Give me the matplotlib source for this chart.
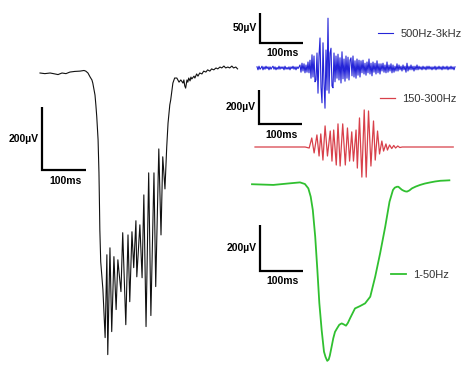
import matplotlib
matplotlib.use("Agg")
import matplotlib.pyplot as plt
import numpy as np

plt.rcParams['font.family'] = ['Liberation Sans', 'DejaVu Sans']

W, H = 474, 366

# raw trace (ms, uV)
black_ms = [0, 11, 23, 34, 41, 50, 59, 68, 79, 91, 100, 104, 109, 114, 118, 120, 125, 127, 129, 132,
            134, 135, 136, 138, 143, 148, 152, 154, 159, 163, 168, 173, 177, 179, 184, 188, 195, 200,
            204, 209, 213, 218, 220, 227, 232, 236, 241, 247, 252, 259, 263, 270, 275, 279, 284, 288,
            291, 295, 297, 302, 306, 311, 316, 320, 325, 327, 329, 331, 334, 336, 338, 341, 343, 345,
            350, 352, 356, 359, 363, 368, 372, 377, 381, 386, 390, 395, 400, 404, 409, 413, 418, 422,
            427, 431, 436, 440, 445, 449]
black_uv = [0, -2, 0, -3, -5, 0, -2, 3, 5, 6, 8, 6, 0, -13, -22, -32, -70, -102, -139, -212,
            -317, -403, -498, -599, -688, -840, -577, -894, -555, -821, -583, -751, -593, -624, -694, -507, -799, -514,
            -726, -504, -618, -469, -647, -482, -650, -387, -805, -317, -770, -317, -678, -241, -514, -266, -368, -235,
            -159, -101, -86, -32, -16, -16, -29, -22, -32, -22, -41, -48, -22, -29, -16, -25, -13, -19,
            -10, -16, -3, -10, 0, -3, 6, 3, 10, 6, 13, 10, 16, 13, 19, 16, 22, 16,
            19, 16, 22, 16, 19, 13]

# 500Hz-3kHz band, one sample every 100/43 ms (uV)
blue_uv = [2, -3, 3, -2, 0, 3, -3, 2, -2, 3, -1, 2, -3, 2, -2, 1, 3, -2, 2, -3, 1, -2, 3, -2, 2, -1,
           2, -3, 3, -2, 1, -2, 2, -3, 2, -1, 3, -2, 2, -3, 2, -1, 2,
           5, -7, 8, -5, 7, -8, 5, -7, 10, -8,
           13, -17, 22, -15, 20, -23,
           -20, 25, -42, 20, 50, -33, -58, 42, -25, -67, 30, -37, 83, -42, 25, 33, -30, -33, 25, -23,
           20, -17, 23, -20, 17, -25, 27, -18, 15, -22, 20, -17, 18, -20, 13,
           17, -13, 20, -15, 12, -17, 15, -12, 13, -15,
           12, -8, 13, -10, 8, -12, 10, -8, 15, -10, 8, -13, 10, -7, 8, -10, 12, -8, 7, -10,
           7, -5, 8, -7, 5, -8, 10, -7, 5, -5, 7, -8, 5, -7, 3, -5, 7, -5, 5, -3,
           3, -5, 5, -3, 3, -7, 8, -5, 3, -3, 5, -3, 3, -5, 3, -3, 5, -3, 3, -2,
           2, -3, 3, -2, 2, -3, 3, -2, 3, -2, 2, -3, 2, -2, 3, -3, 2, -2, 3, -2, 2, -3, 3, -2,
           2, -2, 3, -3, 2, -2, 3, -2, 2, -3, 2]
blue_dt = 100 / 43

# 150-300Hz band (ms, uV)
red_ms = [0, 116.5, 126, 132, 137.5, 144, 149, 153, 158, 163, 168.5, 175, 179, 183, 189, 193, 198,
          204, 210, 215, 220, 225, 229, 235, 238, 243, 248.5, 254, 258.6, 264, 269.6, 275.6, 279.6,
          285, 289.6, 295, 299, 304.5, 308, 313, 318, 322.7, 327, 332, 336.7, 342.5, 461]
red_uv = [0, 0, -6, 53, -35, 71, -53, 77, -77, 124, -53, 94, -83, 100, -106, 136, -112,
          136, -106, 112, -83, 89, -83, 100, -124, 171, -177, 218, -177, 212, -112, 153, -77,
          94, -41, 35, -24, 18, -18, 12, -9, 9, -6, 6, -3, 0, 0]

# 1-50Hz band (ms, uV)
green_ms = [0, 49.6, 88.4, 111.6, 123, 131, 136.5, 141.4, 147, 152, 156.6, 162, 167.4, 171, 175,
            178.4, 181, 185, 189, 193, 198, 203, 208.6, 213, 218.6, 223, 228, 239.5, 251, 263, 275,
            286.5, 298, 309.8, 319.8, 327.8, 332, 337, 340.5, 344.7, 348.5, 352.5, 356.5, 360.5,
            366, 372, 381, 391, 402, 414.7, 426, 438, 449, 459]
green_uv = [-1, -4, 3, 7, 0, -19, -55, -113, -229, -374, -518, -635, -729, -752, -769,
            -763, -746, -709, -671, -643, -627, -612, -606, -610, -616, -604, -584, -541, -531, -519, -490,
            -403, -301, -186, -77, -26, -16, -12, -12, -19, -25, -29, -32, -33,
            -28, -19, -11, -4, 2, 7, 11, 14, 15, 16]

fig = plt.figure(figsize=(W / 100, H / 100), dpi=100)


def panel(x0, y0, ms_px, uv_px):
    # axes over the whole figure, (0 ms, 0 uV) sits at pixel (x0, y0)
    ax = fig.add_axes([0, 0, 1, 1])
    ax.set_xlim(-x0 * ms_px, (W - x0) * ms_px)
    ax.set_ylim((y0 - H) * uv_px, y0 * uv_px)
    ax.set_facecolor('none')
    ax.axis('off')
    return ax


def scalebar(ax, t, v, dv, label):
    ax.plot([t, t, t + 100], [v + dv, v, v], color='k', lw=1.6, solid_joinstyle='miter',
            solid_capstyle='butt')
    ax.annotate(label, (t, v + dv / 2), xytext=(-2.5, 0), textcoords='offset points',
                ha='right', va='center', fontsize=7.5, weight='bold')
    ax.annotate('100ms', (t + 50, v), xytext=(1, -4), textcoords='offset points',
                ha='center', va='top', fontsize=7.5, weight='bold')


def legend(ax, x, y):
    ax.legend(loc='center left', bbox_to_anchor=(x / W, 1 - y / H), bbox_transform=fig.transFigure,
              frameon=False, fontsize=8, handlelength=1.35, handletextpad=0.65,
              borderpad=0, borderaxespad=0, labelcolor='#333333')


ax = panel(40, 73, 100 / 44, 200 / 63)
ax.plot(black_ms, black_uv, color='#111111', lw=0.8)
scalebar(ax, 4.5, -308, 200, '200µV')

ax = panel(257, 68, 100 / 43, 50 / 30)
ax.plot(np.arange(len(blue_uv)) * blue_dt, blue_uv, color='#2525d8', lw=0.8, label='500Hz-3kHz')
scalebar(ax, 7, 42, 50, '50µV')
legend(ax, 378, 34)

ax = panel(255, 147, 100 / 43, 200 / 34)
ax.plot(red_ms, red_uv, color='#d8404a', lw=0.9, label='150-300Hz')
scalebar(ax, 9.3, 135, 200, '200µV')
legend(ax, 380, 99)

ax = panel(252, 184, 100 / 43, 200 / 46)
ax.plot(green_ms, green_uv, color='#30c030', lw=1.3, label='1-50Hz')
scalebar(ax, 18.6, -378, 200, '200µV')
legend(ax, 391, 275)

fig.savefig('out.png', dpi=100)
